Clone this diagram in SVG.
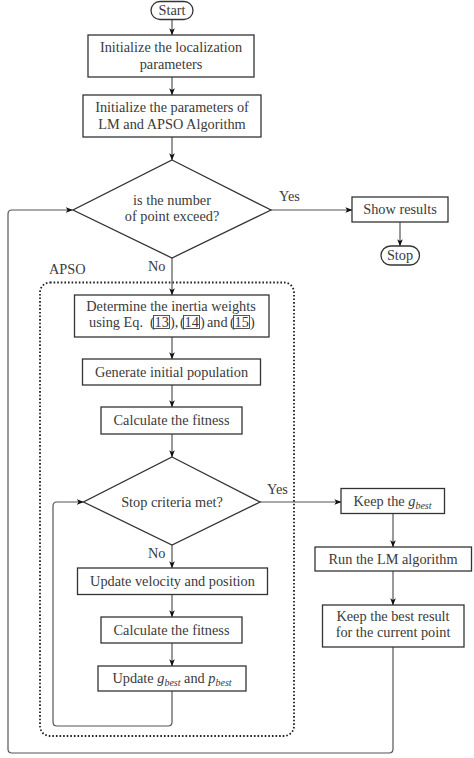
<svg xmlns="http://www.w3.org/2000/svg" width="474" height="758" viewBox="0 0 474 758">
<style>
.b{fill:#fff;stroke:#333;stroke-width:1.3}
.t{font-family:"Liberation Serif","DejaVu Serif",serif;font-size:14.3px;fill:#3a3a3a}
.m{text-anchor:middle}
.c{fill:none;stroke:#555;stroke-width:1.2}
.a{marker-end:url(#ah)}
.i{font-style:italic}
.s{font-style:italic;font-size:10px}
.lb{fill:none;stroke:#444;stroke-width:0.9}
</style>
<defs>
<marker id="ah" viewBox="0 0 10 8" refX="9.5" refY="4" markerWidth="7" markerHeight="5.6" markerUnits="userSpaceOnUse" orient="auto">
<path d="M0,0 L10,4 L0,8 L2.5,4 Z" fill="#111"/>
</marker>
</defs>
<rect id="apso-frame" x="40" y="282.5" width="254" height="453.5" rx="10" fill="none" stroke="#222" stroke-width="1.8" stroke-dasharray="1.6 2"/>
<text class="t" x="49" y="274">APSO</text>
<g id="connectors">
<path class="c a" d="M172,19 V35"/>
<path class="c a" d="M172,77 V95"/>
<path class="c a" d="M172,137 V160"/>
<path class="c a" d="M271,210 H352"/>
<path class="c a" d="M400,222 V246"/>
<path class="c a" d="M172,258 V295"/>
<path class="c a" d="M172,337 V359"/>
<path class="c a" d="M172,385 V407"/>
<path class="c a" d="M172,434 V457"/>
<path class="c a" d="M260,502 H341"/>
<path class="c a" d="M393,513.5 V547"/>
<path class="c a" d="M393,571 V605"/>
<path class="c a" d="M172,545 V568"/>
<path class="c a" d="M172,594.5 V617"/>
<path class="c a" d="M172,643 V666"/>
<path class="c a" d="M172,691 V722 Q172,726 168,726 H57 Q53,726 53,722 V506 Q53,502 57,502 H83.5"/>
<path class="c a" d="M393,647 V749 Q393,753 389,753 H12 Q8,753 8,749 V214 Q8,210 12,210 H72.5"/>
<text class="t" x="279" y="201">Yes</text>
<text class="t" x="148" y="271">No</text>
<text class="t" x="267" y="494">Yes</text>
<text class="t" x="148" y="558">No</text>
</g>
<g id="start"><rect class="b" x="151" y="1.5" width="42" height="18" rx="9"/><text class="t m" x="172" y="15">Start</text></g>
<g id="init-loc"><rect class="b" x="88" y="35" width="166" height="42"/><text class="t m" x="171" y="52">Initialize the localization</text><text class="t m" x="171" y="69">parameters</text></g>
<g id="init-params"><rect class="b" x="83" y="95" width="178" height="42"/><text class="t m" x="172" y="112">Initialize the parameters of</text><text class="t m" x="172" y="128.5">LM and APSO Algorithm</text></g>
<g id="decision-points"><polygon class="b" points="172,160 271,210 172,258 73,210"/><text class="t m" x="172" y="204.5">is the number</text><text class="t m" x="172" y="221">of point exceed?</text></g>
<g id="show-results"><rect class="b" x="352" y="197" width="96" height="25"/><text class="t m" x="400" y="214">Show results</text></g>
<g id="stop"><rect class="b" x="381" y="246" width="38.5" height="19" rx="9.5"/><text class="t m" x="400" y="260">Stop</text></g>
<g id="inertia"><rect class="b" x="74.5" y="295" width="194.5" height="42"/><text class="t m" x="171" y="310.5">Determine the inertia weights</text>
<text class="t" y="327"><tspan x="89">using Eq.</tspan><tspan x="150">(</tspan><tspan x="154.5">13</tspan><tspan x="170">),</tspan><tspan x="180">(</tspan><tspan x="184.5">14</tspan><tspan x="200">)</tspan><tspan x="207">and</tspan><tspan x="230">(</tspan><tspan x="234.5">15</tspan><tspan x="250">)</tspan></text>
<rect class="lb" x="153.5" y="315.5" width="16" height="13"/><rect class="lb" x="183.5" y="315.5" width="16" height="13"/><rect class="lb" x="233.5" y="315.5" width="16" height="13"/></g>
<g id="gen-pop"><rect class="b" x="82.5" y="359" width="178" height="26"/><text class="t m" x="171.5" y="377">Generate initial population</text></g>
<g id="calc-fit1"><rect class="b" x="101" y="407" width="141" height="27"/><text class="t m" x="171.5" y="425">Calculate the fitness</text></g>
<g id="decision-stop"><polygon class="b" points="172,457 260,502 172,545 83.5,502"/><text class="t m" x="172" y="506.5">Stop criteria met?</text></g>
<g id="keep-gbest"><rect class="b" x="341" y="488.5" width="103.5" height="25"/><text class="t m" x="392.5" y="506">Keep the <tspan class="i">g</tspan><tspan class="s" dy="2.5">best</tspan></text></g>
<g id="run-lm"><rect class="b" x="315" y="547" width="156.5" height="24"/><text class="t m" x="393" y="564">Run the LM algorithm</text></g>
<g id="keep-best"><rect class="b" x="322.5" y="605" width="141.5" height="42"/><text class="t m" x="393" y="620.5">Keep the best result</text><text class="t m" x="393" y="637">for the current point</text></g>
<g id="update-vel"><rect class="b" x="77.5" y="568" width="190" height="26.5"/><text class="t m" x="172.5" y="586">Update velocity and position</text></g>
<g id="calc-fit2"><rect class="b" x="101" y="617" width="141" height="26"/><text class="t m" x="171.5" y="635">Calculate the fitness</text></g>
<g id="update-best"><rect class="b" x="98" y="666" width="148" height="25"/><text class="t m" x="172" y="683">Update <tspan class="i">g</tspan><tspan class="s" dy="2.5">best</tspan><tspan dy="-2.5"> and </tspan><tspan class="i">p</tspan><tspan class="s" dy="2.5">best</tspan></text></g>
</svg>
